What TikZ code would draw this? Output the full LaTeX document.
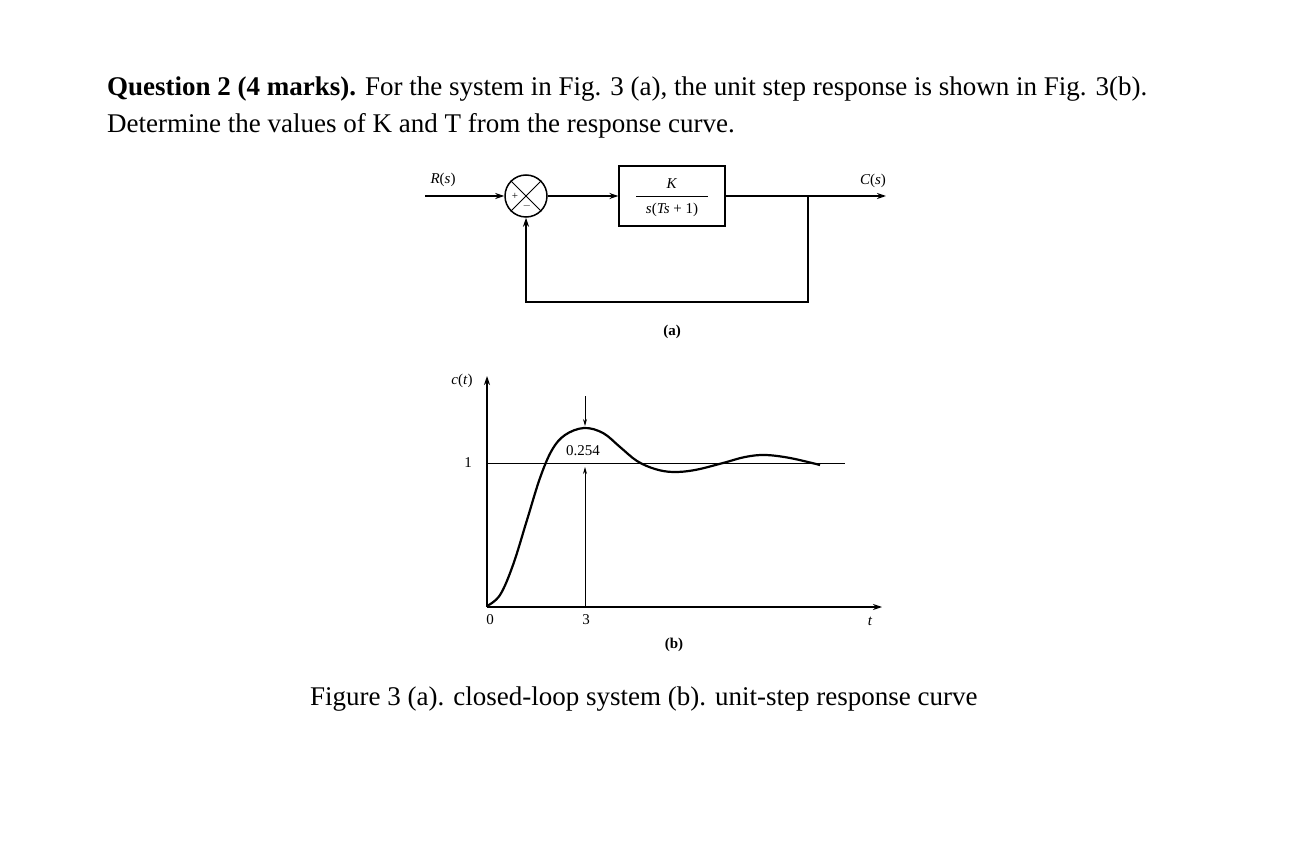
\documentclass[tikz,border=0pt]{standalone}
\usepackage{fontspec}
\setmainfont{Liberation Serif}
\usetikzlibrary{arrows.meta}
\begin{document}
\begin{tikzpicture}[x=1pt,y=-1pt,
  sig/.style={line width=2pt,-{Stealth[length=9pt,width=6pt]}},
  wire/.style={line width=2pt},
  thin/.style={line width=0.8pt},
  lab/.style={font=\fontsize{15}{17}\selectfont,inner sep=0pt},
  big/.style={font=\fontsize{27}{32}\selectfont,inner sep=0pt,anchor=base west}]
\useasboundingbox (0,0) rectangle (1291,842);
\node[big] (t1) at (107,96) {\textbf{Question 2 (4 marks).} For the system in Fig. 3 (a), the unit step response is shown in Fig. 3(b).};
\node[big] (t2) at (107,133) {Determine the values of K and T from the response curve.};
% block diagram
\coordinate (rin) at (425,196);
\node[draw,circle,line width=1.5pt,minimum size=42pt,inner sep=0pt] (sum) at (526,196) {};
\draw[thin] (sum.north west) -- (sum.south east) (sum.north east) -- (sum.south west);
\node[font=\fontsize{11}{12}\selectfont] (plus) at (515,196) {+};
\node[font=\fontsize{11}{12}\selectfont] (minus) at (527,206) {$-$};
\node[draw,line width=1.2pt,minimum width=106pt,minimum height=60pt] (G) at (672,196) {};
\node[lab] (num) at (672,184) {\textit{K}};
\draw[thin] (636,196) -- (708,196);
\node[lab] (den) at (672,210) {\textit{s}(\textit{Ts} + 1)};
\coordinate (br) at (808,196);
\coordinate (cout) at (886,196);
\coordinate (fb1) at (808,302);
\coordinate (fb2) at (526,302);
\draw[sig] (rin) -- (sum.west);
\draw[sig] (sum.east) -- (G.west);
\draw[sig] (G.east) -- (cout);
\draw[wire] (br) -- (fb1) -- (fb2) -- (526,240);
\draw[sig] (526,245) -- (sum.south);
\node[lab] (R) at (443,180) {\textit{R}(\textit{s})};
\node[lab] (C) at (873,181) {\textit{C}(\textit{s})};
\node[lab] (a) at (672,332) {\textbf{(a)}};
% plot
\coordinate (O) at (487,607);
\coordinate (ytop) at (487,376);
\coordinate (xend) at (882,607);
\draw[line width=1.5pt,-{Stealth[length=9pt,width=6pt]}] (O) -- (ytop);
\draw[line width=1.2pt,-{Stealth[length=9pt,width=6pt]}] (O) -- (xend);
\draw[thin] (487,463) -- (845,463);
\draw[line width=2.2pt] plot[smooth,tension=0.6] coordinates {(487,606) (500,595) (513,565) (527,520) (540,478) (552,450) (565,435) (584,428) (603,433) (620,447) (637,461) (655,469) (673,472) (695,470) (723,463) (745,457) (765,455) (790,458) (820,465)};
\draw[thin,-{Stealth[length=7pt,width=4pt]}] (585,607) -- (585,467);
\draw[thin,-{Stealth[length=7pt,width=4pt]}] (585,396) -- (585,426);
\node[lab] (v) at (583,451) {0.254};
\node[lab] (one) at (468,463) {1};
\node[lab] (ct) at (462,381) {\textit{c}(\textit{t})};
\node[lab] (z) at (490,620) {0};
\node[lab] (th) at (586,620) {3};
\node[lab] (tt) at (870,621) {\textit{t}};
\node[lab] (b) at (674,645) {\textbf{(b)}};
\node[big] (cap) at (310,705) {Figure 3 (a). closed-loop system (b). unit-step response curve};
\end{tikzpicture}
\end{document}
